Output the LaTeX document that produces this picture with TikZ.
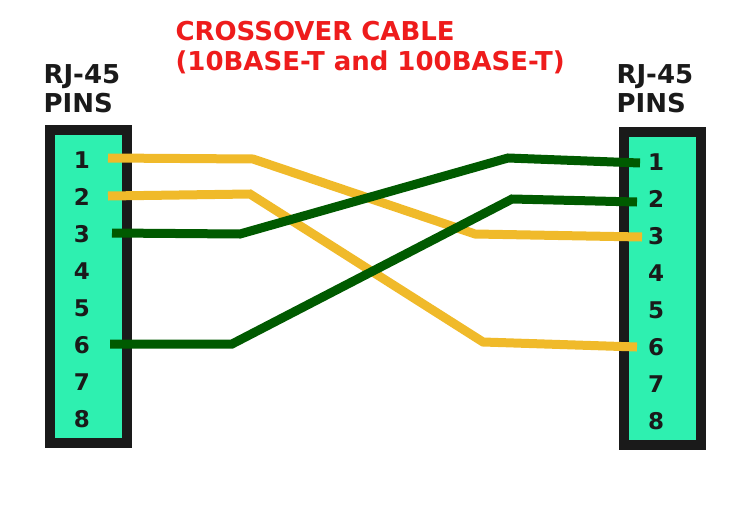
\documentclass[tikz,border=0pt]{standalone}
\usepackage{fontspec}
\setmainfont{DejaVu Sans}
\definecolor{wy}{HTML}{F0BA2A}
\definecolor{wg}{HTML}{005A00}
\definecolor{boxg}{HTML}{2EF0B0}
\definecolor{boxk}{HTML}{1A1A1A}
\definecolor{ttl}{HTML}{EE1C1C}
\begin{document}
\begin{tikzpicture}[x=1pt,y=-1pt,
  jack/.style={draw=boxk,fill=boxg,line width=10pt},
  pin/.style={font=\bfseries\fontsize{23}{23}\selectfont,text=boxk},
  lbl/.style={font=\bfseries\fontsize{26}{29}\selectfont,text=boxk,align=left,anchor=west},
  wire/.style={line width=9pt},
  yw/.style={wire,draw=wy},
  gw/.style={wire,draw=wg}]
\useasboundingbox (0,0) rectangle (743,522);
\draw[jack] (50,130) rectangle (127,443);
\draw[jack] (624,132) rectangle (701,445);
\node[lbl] (ll) at (40,89) {RJ-45\\PINS};
\node[lbl] (rl) at (613,89) {RJ-45\\PINS};
\node[font=\bfseries\fontsize{26}{30}\selectfont,text=ttl,align=left,anchor=west] (t) at (172,48) {CROSSOVER CABLE\\(10BASE-T and 100BASE-T)};
\foreach \i in {1,...,8}{
  \node[pin] (L\i) at (82,{160+37*(\i-1)}) {\i};
  \node[pin] (R\i) at (656,{162+37*(\i-1)}) {\i};
}
\coordinate (a0) at (108,158); \coordinate (a1) at (253,159); \coordinate (a2) at (475,234); \coordinate (a3) at (642,237);
\coordinate (b0) at (108,196); \coordinate (b1) at (250,194); \coordinate (b2) at (483,342); \coordinate (b3) at (637,347);
\coordinate (c0) at (112,233); \coordinate (c1) at (240,234); \coordinate (c2) at (508,158); \coordinate (c3) at (640,163);
\coordinate (d0) at (110,344); \coordinate (d1) at (232,344); \coordinate (d2) at (512,199); \coordinate (d3) at (637,202);
\draw[yw] (a0) -- (a1) -- (a2) -- (a3);
\draw[yw] (b0) -- (b1) -- (b2) -- (b3);
\draw[gw] (c0) -- (c1) -- (c2) -- (c3);
\draw[gw] (d0) -- (d1) -- (d2) -- (d3);
\end{tikzpicture}
\end{document}
